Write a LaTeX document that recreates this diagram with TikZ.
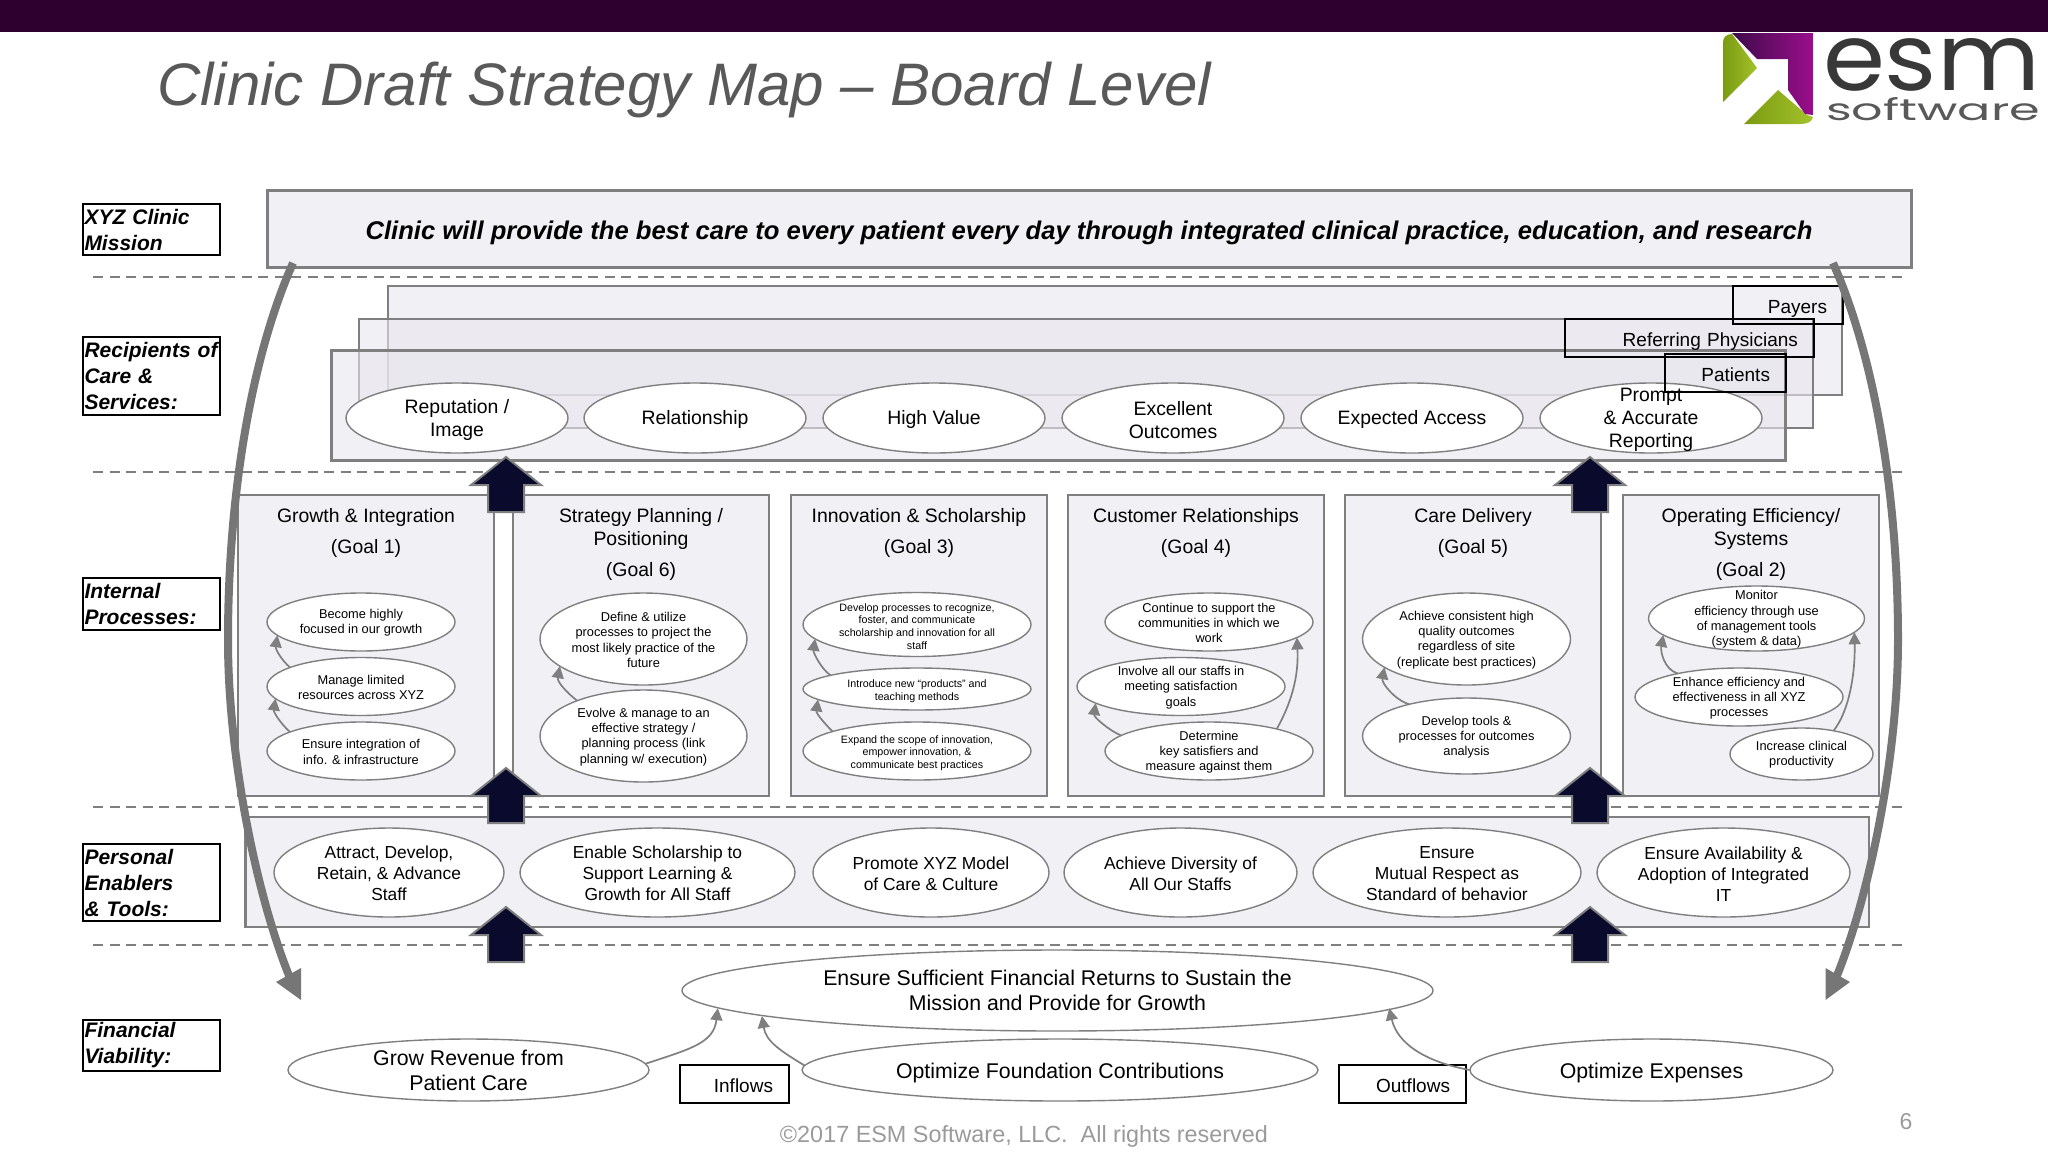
\documentclass[tikz,border=0pt]{standalone}
\usepackage{fontspec}
\usepackage{graphicx}
\setmainfont{Liberation Sans}
\newfontfamily\logofont{Poppins}
\usetikzlibrary{arrows.meta,shapes.geometric}
\definecolor{barcol}{HTML}{2D0030}
\definecolor{edgecol}{HTML}{7F7F7F}
\definecolor{sweepcol}{HTML}{767676}
\definecolor{panelcol}{HTML}{F1F0F4}
\definecolor{stackcol}{HTML}{E8E6ED}
\definecolor{navycol}{HTML}{0A0A2C}
\definecolor{titlecol}{HTML}{595959}
\definecolor{footcol}{HTML}{9A9A9A}
\definecolor{leafdark}{HTML}{7A9A12}
\definecolor{leaflight}{HTML}{A4C22A}
\definecolor{plumdark}{HTML}{3E0A4A}
\definecolor{plumlight}{HTML}{9A0E8C}

\begin{document}
\begin{tikzpicture}[x=1pt,y=-1pt,
    every node/.style={outer sep=0pt},
    panel/.style={draw=edgecol,fill=panelcol,line width=2.5pt,inner sep=0pt,anchor=north west},
    stacked/.style={draw=edgecol,fill=stackcol,fill opacity=.6,line width=2pt,anchor=north west,inner sep=0pt},
    sidelabel/.style={draw=black,line width=2pt,anchor=north west,inner sep=1.5pt,text width=134pt,align=left,
        font=\fontsize{21}{26}\selectfont\bfseries\itshape},
    tagbox/.style={draw=black,line width=2.5pt,anchor=north west,inner ysep=0pt,inner xsep=16pt,
        minimum height=38pt,align=right,text width=#1,text height=20pt,text depth=4pt,font=\fontsize{19}{23}\selectfont},
    oval/.style n args={3}{ellipse,draw=edgecol,fill=white,line width=1.4pt,inner sep=0pt,
        minimum width=#1,minimum height=#2,label={center:#3}},
    ovaltext/.style n args={3}{align=center,yshift=#3,font=\fontsize{#1}{#2}\selectfont},
    boxtitle/.style={anchor=north,inner sep=0pt,yshift=-13.5pt,align=center,font=\fontsize{19.4}{23}\selectfont},
    flow/.style={draw=edgecol,line width=1.7pt,-{Triangle[width=12pt,length=12pt]}},
    sweep/.style={draw=sweepcol,line width=8pt},
    upblock/.style={draw=edgecol,fill=navycol,line width=2pt,line join=miter},
    rowline/.style={draw=edgecol,line width=1.8pt,dash pattern=on 10pt off 6.5pt}]

    \useasboundingbox (0,0) rectangle (2048,1152);
    \fill[barcol] (0,0) rectangle (2048,32);

    \node[anchor=center,inner sep=0pt,text=titlecol,font=\fontsize{60}{66}\selectfont\itshape] (title) at (684,90)
        {Clinic Draft Strategy Map -- Board Level};

    % logo
    \shade[left color=leafdark,right color=leaflight] (1723,42) .. controls (1723,37) and (1727,34) .. (1732,34) -- (1757,68) -- (1723,102) -- cycle;
    \shade[left color=leafdark,right color=leaflight] (1744,124) -- (1778,90) -- (1807,115) -- (1813,117) .. controls (1812,122) and (1807,124) .. (1800,124) -- cycle;
    \shade[left color=plumdark,right color=plumlight] (1732,33) -- (1813,33) -- (1813,115) -- (1805,114) -- (1788,90) -- (1788,59) -- (1757,59) -- cycle;
    \node[anchor=north west,inner sep=0pt,text=black!78] (esm) at (1823,38) {\resizebox{217pt}{52pt}{\logofont esm}};
    \node[anchor=north west,inner sep=0pt,text=black!65] (soft) at (1826,97) {\resizebox{214pt}{23pt}{\logofont software}};

    \foreach \y in {277,472,807,945}
        \draw[rowline] (93,\y) -- (1908,\y);

    \node[sidelabel,minimum height=51pt] (lmission) at (83,204) {XYZ Clinic\\Mission};
    \node[sidelabel,minimum height=78pt] (lcare) at (83,337) {Recipients of\\Care \&\\Services:};
    \node[sidelabel,minimum height=52pt] (lproc) at (83,578) {Internal\\Processes:};
    \node[sidelabel,minimum height=77pt] (lstaff) at (83,844) {Personal\\Enablers\\\& Tools:};
    \node[sidelabel,minimum height=51pt] (lfin) at (83,1020) {Financial\\Viability:};

    \node[panel,line width=3pt,minimum width=1644pt,minimum height=77pt,text height=28pt,text depth=6pt,
        font=\fontsize{25.6}{30}\selectfont\bfseries\itshape] (mission) at (267,190)
        {Clinic will provide the best care to every patient every day through integrated clinical practice, education, and research};

    % recipients
    \node[stacked,minimum width=1454pt,minimum height=109pt] (payers) at (388,286) {};
    \node[stacked,minimum width=1454pt,minimum height=109pt] (physicians) at (359,319) {};
    \node[stacked,line width=3pt,draw=edgecol,minimum width=1454pt,minimum height=110pt] (patients) at (331,350) {};
    \begin{scope}[every label/.style={ovaltext={19.4}{23}{-1.7pt}}]
    \foreach \n/\x/\t in {rep/457/{Reputation /\\Image},rel/695/{Relationship},val/934/{High Value},
        out/1173/{Excellent\\Outcomes},acc/1412/{Expected Access},rpt/1651/{Prompt\\\& Accurate\\Reporting}}
        \node[oval={222}{70}{\t}] (\n) at (\x,418) {};
    \end{scope}
    \node[tagbox=78pt] (tpayers) at (1733,286) {Payers};
    \node[tagbox=217pt] (tphys) at (1565,319) {Referring Physicians};
    \node[tagbox=89pt] (tpat) at (1665,354) {Patients};

    % goal panels
    \foreach \n/\x/\t in {1/238/{Growth \& Integration\\[8pt](Goal 1)},2/513/{Strategy Planning /\\Positioning\\[8pt](Goal 6)},
        3/791/{Innovation \& Scholarship\\[8pt](Goal 3)},4/1068/{Customer Relationships\\[8pt](Goal 4)},
        5/1345/{Care Delivery\\[8pt](Goal 5)},6/1623/{Operating Efficiency/\\Systems\\[8pt](Goal 2)}}{
        \node[panel,minimum width=256pt,minimum height=301pt] (box\n) at (\x,495) {};
        \node[boxtitle] (head\n) at (box\n.north) {\t};
    }

    \begin{scope}[every label/.style={ovaltext={12.8}{15.3}{-1pt}}]
    \node[oval={188}{58}{Become highly\\focused in our growth}] (g1a) at (361,622) {};
    \node[oval={188}{58}{Manage limited\\resources across XYZ}] (g1b) at (361,686.5) {};
    \node[oval={188}{58}{Ensure integration of\\info. \& infrastructure}] (g1c) at (361,751) {};
    \node[oval={207}{92}{Define \& utilize\\processes to project the\\most likely practice of the\\future}] (g2a) at (643.5,639) {};
    \node[oval={207}{92}{Evolve \& manage to an\\effective strategy /\\planning process (link\\planning w/ execution)}] (g2b) at (643.5,736) {};
    \node[oval={208}{58}{Continue to support the\\communities in which we\\work}] (g4a) at (1209,622) {};
    \node[oval={208}{58}{Involve all our staffs in\\meeting satisfaction\\goals}] (g4b) at (1181,686.5) {};
    \node[oval={208}{58}{Determine\\key satisfiers and\\measure against them}] (g4c) at (1209,751) {};
    \node[oval={208}{92}{Achieve consistent high\\quality outcomes\\regardless of site\\(replicate best practices)}] (g5a) at (1466.5,639) {};
    \node[oval={208}{76}{Develop tools \&\\processes for outcomes\\analysis}] (g5b) at (1466.5,736) {};
    \node[oval={216}{65}{Monitor\\efficiency through use\\of management tools\\(system \& data)}] (g6a) at (1756.5,618.5) {};
    \node[oval={208}{58}{Enhance efficiency and\\effectiveness in all XYZ\\processes}] (g6b) at (1739,697) {};
    \node[oval={143}{52}{Increase clinical\\productivity}] (g6c) at (1801.5,754) {};
    \end{scope}
    \begin{scope}[every label/.style={ovaltext={10.7}{12.7}{-2pt}}]
    \node[oval={228}{64}{Develop processes to recognize,\\foster, and communicate\\scholarship and innovation for all\\staff}] (g3a) at (917,624.5) {};
    \node[oval={228}{42}{Introduce new “products” and\\teaching methods}] (g3b) at (917,689) {};
    \node[oval={228}{58}{Expand the scope of innovation,\\empower innovation, \&\\communicate best practices}] (g3c) at (917,751) {};
    \end{scope}

    \draw[flow] (g1b.165) .. controls +(-9,-8) and +(-2,14) .. (g1a.189);
    \draw[flow] (g1c.165) .. controls +(-9,-8) and +(-2,14) .. (g1b.188);
    \draw[flow] (g2b.152) .. controls +(-10,-8) and +(-3,16) .. (g2a.198);
    \draw[flow] (g3b.171) .. controls +(-9,-6) and +(-2,14) .. (g3a.188);
    \draw[flow] (g3c.167) .. controls +(-8,-8) and +(-2,14) .. (g3b.186);
    \draw[flow] (g4c.170) .. controls +(-12,-5) and +(-2,14) .. (g4b.191);
    \draw[flow] (g4c.18) .. controls +(14,-25) and +(2,40) .. (g4a.350);
    \draw[flow] (g5b.151) .. controls +(-14,-4) and +(-3,16) .. (g5a.199);
    \draw[flow] (g6b.159) .. controls +(-14,-4) and +(-3,16) .. (g6a.190);
    \draw[flow] (g6c.36) .. controls +(16,-20) and +(1,40) .. (g6a.352);

    % enablers
    \node[panel,minimum width=1623.5pt,minimum height=110pt] (staff) at (245.5,817) {};
    \begin{scope}[every label/.style={ovaltext={17.4}{21}{-1.2pt}}]
    \foreach \n/\x/\r/\t in {e1/389/230/{Attract, Develop,\\Retain, \& Advance\\Staff},
        e2/657.5/275/{Enable Scholarship to\\Support Learning \&\\Growth for All Staff},
        e3/931/236/{Promote XYZ Model\\of Care \& Culture},e4/1180.5/233/{Achieve Diversity of\\All Our Staffs},
        e5/1447/268/{Ensure\\Mutual Respect as\\Standard of behavior},
        e6/1723.5/253/{Ensure Availability \&\\Adoption of Integrated\\IT}}
        \node[oval={\r}{89}{\t}] (\n) at (\x,872.5) {};
    \end{scope}

    % financial
    \begin{scope}[every label/.style={ovaltext={21.3}{25.2}{0pt}}]
    \node[oval={751}{81}{Ensure Sufficient Financial Returns to Sustain the\\Mission and Provide for Growth}] (fmain) at (1057.5,990.5) {};
    \node[oval={361}{62}{Grow Revenue from\\Patient Care}] (fgrow) at (468.5,1070) {};
    \end{scope}
    \begin{scope}[every label/.style={ovaltext={21.3}{25.2}{-2.5pt}}]
    \node[oval={516}{62}{Optimize Foundation Contributions}] (ffound) at (1060,1070) {};
    \node[oval={363}{62}{Optimize Expenses}] (fexp) at (1651.5,1070) {};
    \end{scope}
    \node[tagbox=77pt] (tin) at (680,1065) {Inflows};
    \node[tagbox=95pt] (tout) at (1339,1065) {Outflows};
    \draw[flow] (fgrow.2) .. controls +(45,-15) and +(-4,35) .. ([xshift=-2pt]fmain.183);
    \draw[flow] (ffound.179) .. controls +(-25,-15) and +(4,25) .. ([xshift=-4pt]fmain.185);
    \draw[flow] (fexp.180) .. controls +(-45,-8) and +(8,35) .. ([xshift=-6pt]fmain.357);

    % block arrows
    \foreach \x in {506,1590}
        \foreach \y in {457,768,907}
            \draw[upblock] (\x,\y) -- ++(35,28) -- ++(-17,0) -- ++(0,27) -- ++(-36,0) -- ++(0,-27) -- ++(-17,0) -- cycle;

    % sweep arcs
    \coordinate (arcltop) at (293,263);
    \coordinate (arclend) at (290,978);
    \coordinate (arcrtop) at (1833,263);
    \coordinate (arcrend) at (1836,978);
    \draw[sweep] (arcltop) .. controls (250,360) and (228,500) .. (228,640) .. controls (228,760) and (258,900) .. (arclend);
    \draw[sweep] (arcrtop) .. controls (1876,360) and (1898,500) .. (1898,640) .. controls (1898,760) and (1868,900) .. (arcrend);
    \fill[sweepcol] (301,1000) -- (301,968) -- (276,982) -- cycle;
    \fill[sweepcol] (1825.5,1000) -- (1825.5,968) -- (1850,982) -- cycle;

    \node[text=footcol,inner sep=0pt,font=\fontsize{23.4}{26}\selectfont] (copy) at (1024,1136) {©2017 ESM Software, LLC.\ \ All rights reserved};
    \node[text=footcol,inner sep=0pt,font=\fontsize{23}{26}\selectfont] (page) at (1906,1122) {6};

\end{tikzpicture}
\end{document}
